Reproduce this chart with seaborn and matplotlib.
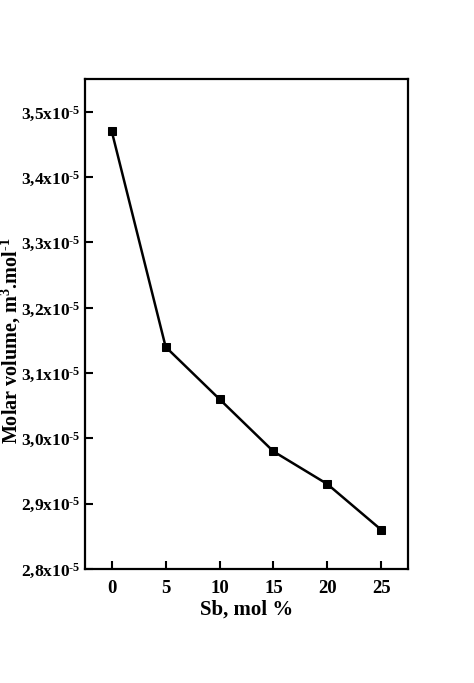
import matplotlib
matplotlib.use("Agg")
import matplotlib.pyplot as plt
import matplotlib.ticker as ticker
import numpy as np
import pandas as pd
import seaborn as sns

sb_mol = [0, 5, 10, 15, 20, 25]
molar_volume = [3.47e-5, 3.14e-5, 3.06e-5, 2.98e-5, 2.93e-5, 2.86e-5]
x_ticks = [0, 5, 10, 15, 20, 25]
y_ticks = [2.8e-5, 2.9e-5, 3.0e-5, 3.1e-5, 3.2e-5, 3.3e-5, 3.4e-5, 3.5e-5]

sns.set_style("ticks")
plt.rcParams['font.family'] = ['Liberation Serif', 'DejaVu Serif']
plt.rcParams['font.weight'] = 'bold'
plt.rcParams['mathtext.fontset'] = 'custom'
plt.rcParams['mathtext.rm'] = 'Liberation Serif:bold'
plt.rcParams['mathtext.it'] = 'Liberation Serif:bold'
plt.rcParams['mathtext.bf'] = 'Liberation Serif:bold'
plt.rcParams['mathtext.default'] = 'rm'
plt.rcParams['axes.unicode_minus'] = False
for k in ['text.color', 'axes.labelcolor', 'xtick.color', 'ytick.color', 'axes.edgecolor']:
    plt.rcParams[k] = 'black'

df = pd.DataFrame({"sb": sb_mol, "vm": molar_volume})

fig = plt.figure(figsize=(4.74, 6.83), dpi=100)
ax = fig.add_axes([0.179, 0.167, 0.682, 0.717])

sns.lineplot(data=df, x="sb", y="vm", ax=ax, color="black", linewidth=1.8,
             marker="s", markersize=6, markeredgecolor="black")

ax.set_xlim(-2.5, 27.5)
ax.set_ylim(2.8e-5, 3.55e-5)
ax.set_xticks(x_ticks)
ax.set_yticks(y_ticks)


def fmt(v, pos):
    s = "%.1f" % (v * 1e5)
    return s.replace(".", ",") + r"x10$^{\text{-}5}$"


ax.yaxis.set_major_formatter(ticker.FuncFormatter(fmt))
ax.tick_params(direction="in", length=6, width=1.5, labelsize=12.5, pad=3)
ax.tick_params(axis="x", labelsize=13.5, pad=8)
for sp in ax.spines.values():
    sp.set_linewidth(1.6)

ax.set_xlabel("Sb, mol %", fontsize=15, fontweight="bold", labelpad=2)
ax.set_ylabel(r"Molar volume, m$^{3}$.mol$^{\text{-}1}$", fontsize=14.5, fontweight="bold")
ax.yaxis.set_label_coords(-0.19, 0.465)

fig.savefig("out.png", dpi=100)
